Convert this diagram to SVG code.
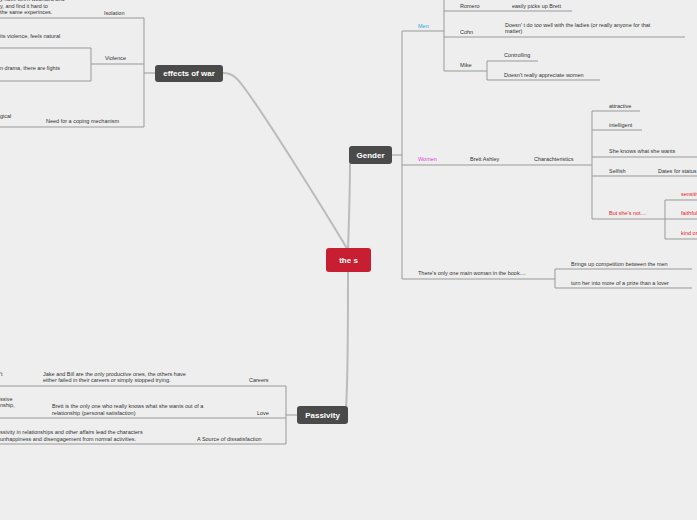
<svg xmlns="http://www.w3.org/2000/svg" width="697" height="520" viewBox="0 0 697 520">
<style>
text{font-family:"Liberation Sans",Arial,sans-serif;font-size:5.5px;fill:#333}
.n{font-size:8px;font-weight:bold;fill:#fff;text-anchor:middle}
.l{stroke:#999;stroke-width:1;fill:none}
.m{stroke:#bbb;stroke-width:2;fill:none}
.r{fill:#e8202a}
</style>
<rect width="697" height="520" fill="#eeeeee"/>
<g id="connectors">
<path class="m" d="M348,250 C330,220 250,90 236,78 C232,74 228,73 223,73"/>
<path class="m" d="M348,250 C349,220 350,190 350,162"/>
<path class="m" d="M348,272 C348,320 348,380 346,408"/>
<path class="l" d="M155,73H144M144,18V127M0,18H144M91,64H144M0,48H91V81H0M0,127H144"/>
<path class="l" d="M392,155H402M402,31V279M402,31H444M444,0V71M444,11H572M444,37H685M444,71H487M487,61V80M487,61H538M487,80H600"/>
<path class="l" d="M402,165H592M592,111V219M592,111H640M592,130H642M592,157H697M592,176H697M592,219H665M665,200V239M665,200H697M665,219H697M665,239H697"/>
<path class="l" d="M402,279H555M555,269V288M555,269H692M555,288H692"/>
<path class="l" d="M297,415H286M286,386V444M0,386H286M0,418H286M0,444H286"/>
</g>
<g id="center"><rect x="326" y="248" width="45" height="24" rx="3" fill="#c81e32"/><text class="n" x="348.5" y="263">the s</text></g>
<g id="war"><rect x="155" y="65" width="68" height="17" rx="3" fill="#4a4a4a"/><text class="n" x="189" y="76">effects of war</text>
<text x="0" y="1">y have been wounded and</text><text x="0" y="8">y, and find it hard to</text><text x="0" y="14">the same experinces.</text>
<text x="104" y="15">Isolation</text><text x="0" y="38">its violence, feels natural</text>
<text x="105" y="60">Violence</text><text x="0" y="70">n drama, there are fights</text>
<text x="0" y="118">gical</text><text x="46" y="123">Need for a coping mechanism</text></g>
<g id="gender"><rect x="349" y="146" width="43" height="18" rx="3" fill="#4a4a4a"/><text class="n" x="370.5" y="158">Gender</text>
<text x="418" y="28" style="fill:#29a8e0">Men</text>
<text x="460" y="8">Romero</text><text x="512" y="8">easily picks up Brett</text>
<text x="505" y="27">Doesn' t do too well with the ladies (or really anyone for that</text><text x="505" y="33">matter)</text><text x="460" y="34">Cohn</text>
<text x="504" y="57">Controlling</text><text x="460" y="67">Mike</text><text x="504" y="77">Doesn't really appreciate women</text>
<text x="418" y="161" style="fill:#e040e0">Women</text><text x="470" y="161">Brett Ashley</text><text x="534" y="161">Charachteristics</text>
<text x="609" y="108">attractive</text><text x="609" y="127">intelligent</text><text x="609" y="153">She knows what she wants</text>
<text x="609" y="173">Selfish</text><text x="658" y="173">Dates for status</text>
<text x="609" y="215" class="r">But she's not....</text><text x="681" y="196" class="r">sensitive</text><text x="681" y="215" class="r">faithful</text><text x="681" y="235" class="r">kind or</text>
<text x="418" y="275">There's only one main woman in the book....</text>
<text x="571" y="266">Brings up competition between the men</text><text x="571" y="285">turn her into more of a prize than a lover</text></g>
<g id="passivity"><rect x="297" y="406" width="51" height="18" rx="3" fill="#4a4a4a"/><text class="n" x="322.5" y="418">Passivity</text>
<text x="0" y="376">'t</text><text x="43" y="376">Jake and Bill are the only productive ones, the others have</text><text x="43" y="382">either failed in their careers or simply stopped trying.</text><text x="249" y="382">Careers</text>
<text x="0" y="401">ssive</text><text x="0" y="407">nship,</text><text x="52" y="408">Brett is the only one who really knows what she wants out of a</text><text x="52" y="415">relationship (personal satisfaction)</text><text x="257" y="415">Love</text>
<text x="0" y="434">ssivity in relationships and other affairs lead the characters</text><text x="0" y="441">unhappiness and disengagement from normal activities.</text><text x="197" y="441">A Source of dissatisfaction</text></g>
</svg>
